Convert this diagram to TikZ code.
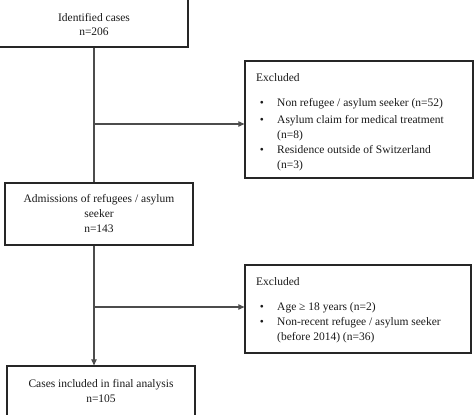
\documentclass[tikz,border=0pt]{standalone}
\usepackage{fontspec}
\setmainfont{Liberation Serif}
\usetikzlibrary{arrows.meta}
\begin{document}
\begin{tikzpicture}[x=1pt,y=-1pt,
  box/.style={draw=black!85,line width=1.3pt,rectangle,inner sep=0pt},
  txt/.style={inner sep=0pt,font=\fontsize{11.5}{14}\selectfont,text=black!90},
  conn/.style={draw=black!70,line width=1.1pt},
  arr/.style={conn,-{Triangle[length=6pt,width=5.5pt]}}]
\useasboundingbox (0,0) rectangle (474,415);
\clip (0,0) rectangle (474,415);
% boxes
\node[box,minimum width=191pt,minimum height=50pt] (b1) at (92.5,22) {};
\node[box,minimum width=228pt,minimum height=117pt] (b2) at (359,119.5) {};
\node[box,minimum width=188pt,minimum height=62pt] (b3) at (99,214) {};
\node[box,minimum width=226pt,minimum height=88pt] (b4) at (358,309) {};
\node[box,minimum width=188pt,minimum height=60pt] (b5) at (101,396) {};
% texts box 1
\node[txt,anchor=base] (t1a) at (94,21) {Identified cases};
\node[txt,anchor=base] (t1b) at (94,35) {n=206};
% box 2
\node[txt,anchor=base west] (t2a) at (256,81) {Excluded};
\node[txt,anchor=base] (d2a) at (262,106) {\textbullet};
\node[txt,anchor=base west] (t2b) at (277,106) {Non refugee / asylum seeker (n=52)};
\node[txt,anchor=base] (d2b) at (262,123) {\textbullet};
\node[txt,anchor=base west] (t2c) at (277,123) {Asylum claim for medical treatment};
\node[txt,anchor=base west] (t2d) at (277,138) {(n=8)};
\node[txt,anchor=base] (d2c) at (262,153) {\textbullet};
\node[txt,anchor=base west] (t2e) at (277,153) {Residence outside of Switzerland};
\node[txt,anchor=base west] (t2f) at (277,168) {(n=3)};
% box 3
\node[txt,anchor=base] (t3a) at (99,202) {Admissions of refugees / asylum};
\node[txt,anchor=base] (t3b) at (99,217) {seeker};
\node[txt,anchor=base] (t3c) at (99,232) {n=143};
% box 4
\node[txt,anchor=base west] (t4a) at (256,285) {Excluded};
\node[txt,anchor=base] (d4a) at (262,310) {\textbullet};
\node[txt,anchor=base west] (t4b) at (277,310) {Age ≥ 18 years (n=2)};
\node[txt,anchor=base] (d4b) at (262,325) {\textbullet};
\node[txt,anchor=base west] (t4c) at (277,325) {Non-recent refugee / asylum seeker};
\node[txt,anchor=base west] (t4d) at (277,340) {(before 2014) (n=36)};
% box 5
\node[txt,anchor=base] (t5a) at (101,387) {Cases included in final analysis};
\node[txt,anchor=base] (t5b) at (101,402) {n=105};
% connectors
\coordinate (j1) at (94,124);
\coordinate (j2) at (94,307);
\draw[conn] (b1.south -| j1) -- (b3.north -| j1);
\draw[arr] (j1) -- (b2.west |- j1);
\draw[arr] (b3.south -| j2) -- (b5.north -| j2);
\draw[arr] (j2) -- (b4.west |- j2);
\end{tikzpicture}
\end{document}
